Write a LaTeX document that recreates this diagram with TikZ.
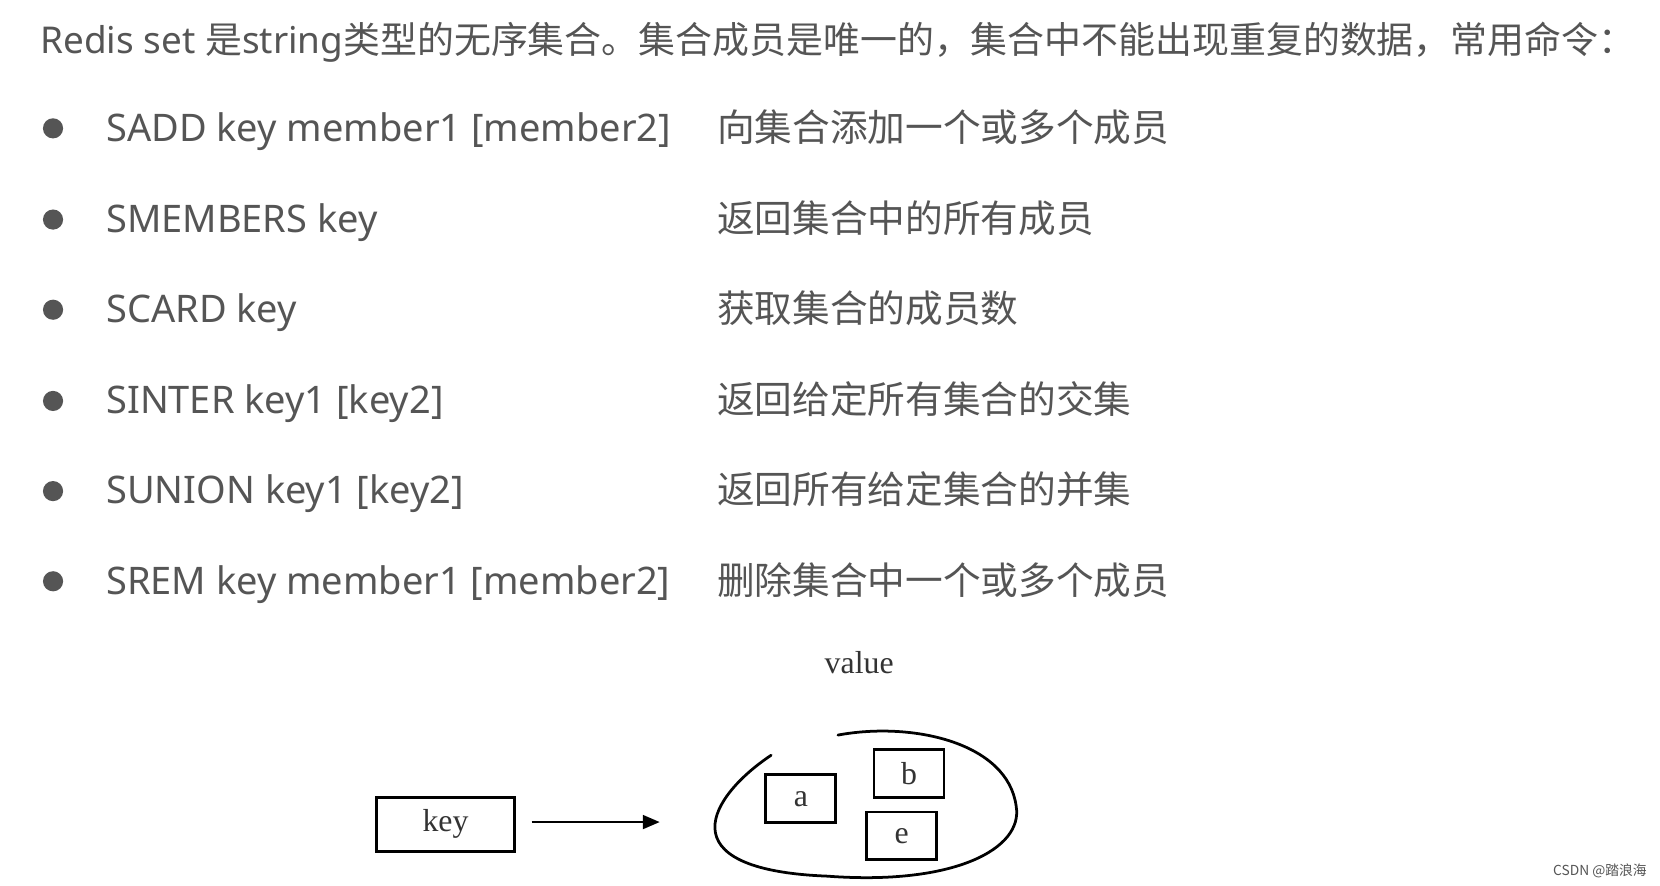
\documentclass[tikz,border=0pt]{standalone}
\usepackage{fontspec}
\setmainfont{Noto Sans CJK SC}
\newfontfamily\lat{Noto Sans}
\newfontfamily\serifdiag{Liberation Serif}
\usetikzlibrary{arrows.meta}
\definecolor{txt}{HTML}{555555}
\tikzset{
  line/.style={anchor=base west,inner sep=0pt,text=txt,font=\fontsize{35.5}{40}\selectfont},
  bul/.style={circle,fill=txt,inner sep=0pt,minimum size=19pt},
  sk/.style={draw=black,line width=2.6pt},
  lab/.style={font=\serifdiag\fontsize{30}{34}\selectfont,text=black!80}
}
\begin{document}
\begin{tikzpicture}[x=1pt,y=-1pt]
\useasboundingbox[fill=white] (0,0) rectangle (1565,835);
\node[line,font=\fontsize{34.8}{40}\selectfont] (hd) at (38,50) {{\lat Redis set }是{\lat string}类型的无序集合。集合成员是唯一的，集合中不能出现重复的数据，常用命令：};
\foreach \y/\c/\d [count=\i] in {133/SADD key member1 [member2]/向集合添加一个或多个成员,
  219/SMEMBERS key/返回集合中的所有成员,
  304/SCARD key/获取集合的成员数,
  390/SINTER key1 [key2]/返回给定所有集合的交集,
  475/SUNION key1 [key2]/返回所有给定集合的并集,
  560/SREM key member1 [member2]/删除集合中一个或多个成员}{
  \node[bul] (b\i) at (50,\y-12) {};
  \node[line,font=\lat\fontsize{35.8}{40}\selectfont] (c\i) at (100,\y) {\c};
  \node[line] (d\i) at (676,\y) {\d};
}
\node[lab] (val) at (810,625) {value};
\node[sk,minimum width=130pt,minimum height=51pt,lab] (key) at (420,777) {key};
\node[sk,minimum width=66pt,minimum height=45pt,lab] (a) at (755,753) {a};
\node[sk,minimum width=66pt,minimum height=45pt,lab] (b) at (857,729) {b};
\node[sk,minimum width=66pt,minimum height=45pt,lab] (e) at (850,788) {e};
\coordinate (tip) at (622,775);
\draw[line width=2.4pt,-{Triangle[length=16pt,width=13pt]}] (key.east)+(15,-2) -- (tip);
\draw[sk,line cap=round] (727,712) .. controls (670,750) and (625,820) .. (780,826)
  .. controls (900,835) and (965,800) .. (958,760)
  .. controls (950,700) and (860,680) .. (790,693);
\node[anchor=base east,text=txt,font=\fontsize{13}{15}\selectfont] (wm) at (1556,825) {CSDN @踏浪海};
\end{tikzpicture}
\end{document}
